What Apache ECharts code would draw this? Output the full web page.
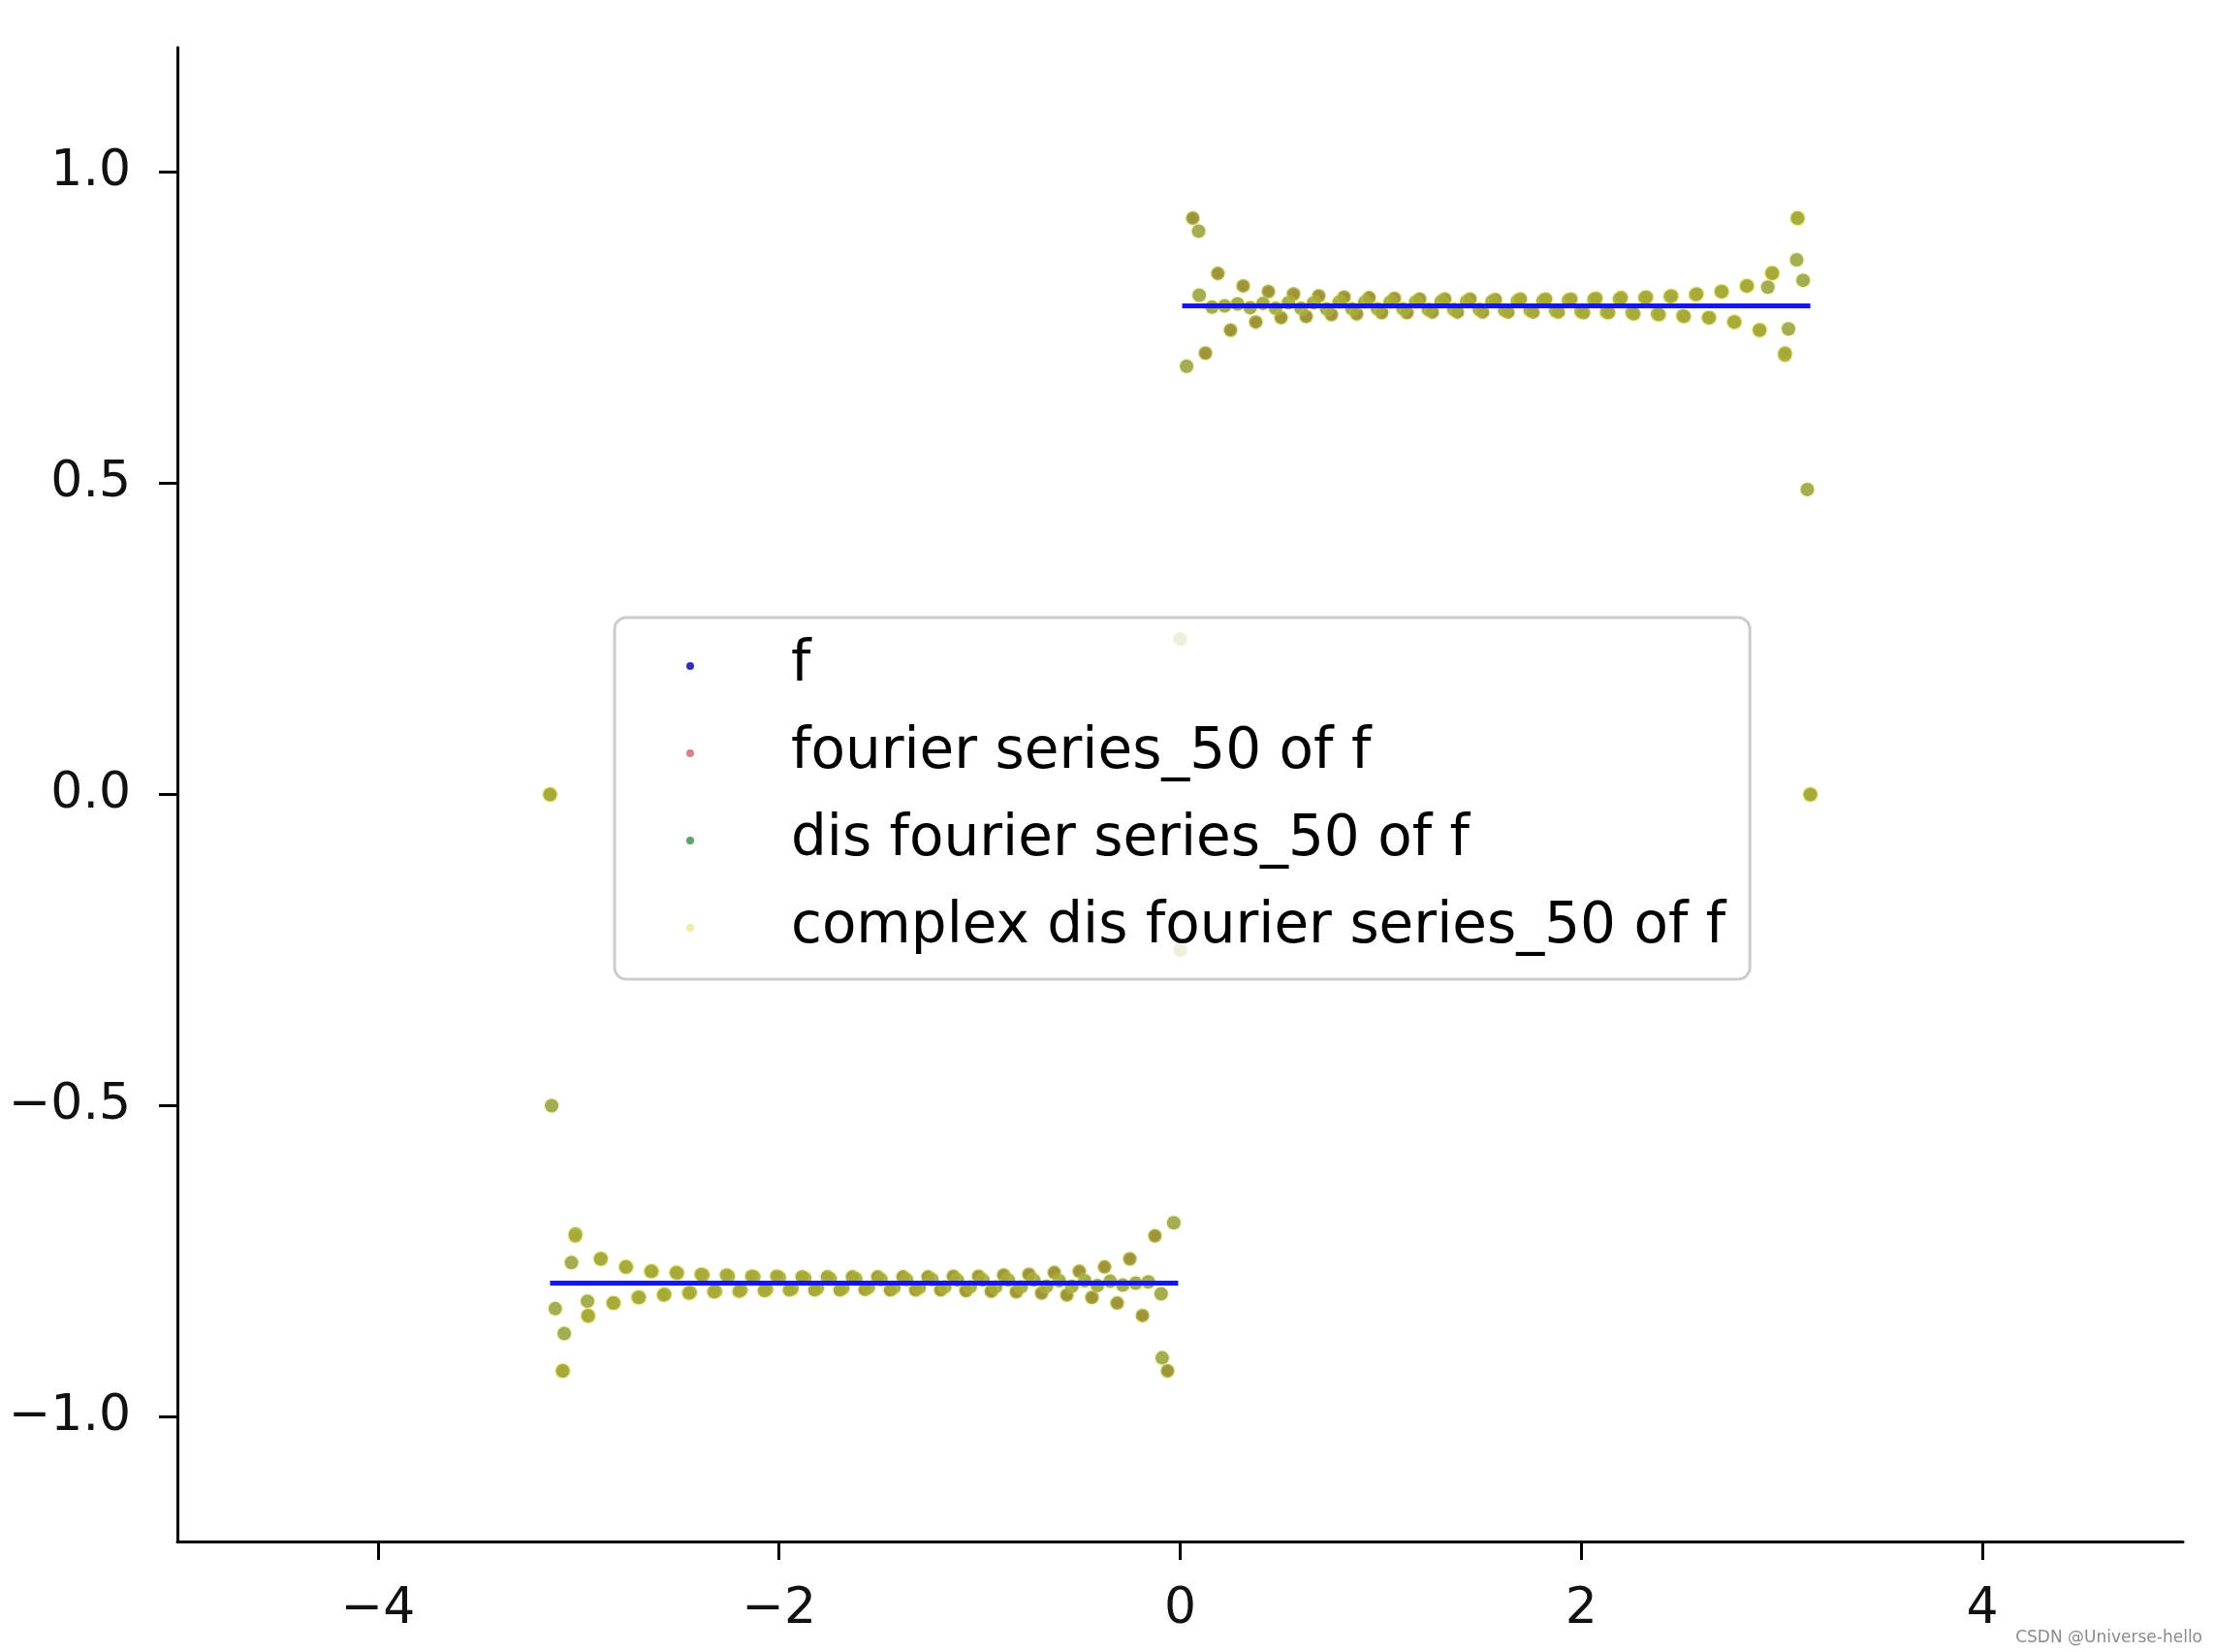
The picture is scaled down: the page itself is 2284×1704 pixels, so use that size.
<!DOCTYPE html>
<html><head><meta charset="utf-8">
<script src="https://cdn.jsdelivr.net/npm/echarts@6/dist/echarts.min.js"></script>
<style>html,body{margin:0;padding:0;background:#fff}#c{width:2284px;height:1704px}</style>
</head><body><div id="c"></div>
<script>
// ---- data ----
const seriesNames = ['f', 'fourier series_50 of f', 'dis fourier series_50 of f', 'complex dis fourier series_50 of f'];
const xTicks = [-4, -2, 0, 2, 4];
const yTicks = [-1.0, -0.5, 0.0, 0.5, 1.0];

// f: the step function (drawn as a dense blue trace)
const fX = [-3.142, -0.01, null, 0.01, 3.142];
const fY = [-0.785, -0.785, null, 0.785, 0.785];

// sample grid A
const xA = [-3.142,-3.079,-3.016,-2.953,-2.890,-2.827,-2.765,-2.702,-2.639,-2.576,-2.513,-2.450,-2.388,-2.325,-2.262,-2.199,-2.136,-2.073,-2.011,-1.948,-1.885,-1.822,-1.759,-1.696,-1.634,-1.571,-1.508,-1.445,-1.382,-1.319,-1.257,-1.194,-1.131,-1.068,-1.005,-0.942,-0.880,-0.817,-0.754,-0.691,-0.628,-0.565,-0.503,-0.440,-0.377,-0.314,-0.251,-0.188,-0.126,-0.063,
  0.063,0.126,0.188,0.251,0.314,0.377,0.440,0.503,0.565,0.628,0.691,0.754,0.817,0.880,0.942,1.005,1.068,1.131,1.194,1.257,1.319,1.382,1.445,1.508,1.571,1.634,1.696,1.759,1.822,1.885,1.948,2.011,2.073,2.136,2.199,2.262,2.325,2.388,2.450,2.513,2.576,2.639,2.702,2.765,2.827,2.890,2.953,3.016,3.079,3.142];
const yA = [0,-0.926,-0.709,-0.837,-0.746,-0.817,-0.759,-0.808,-0.766,-0.804,-0.768,-0.801,-0.771,-0.799,-0.772,-0.798,-0.774,-0.797,-0.774,-0.796,-0.775,-0.796,-0.775,-0.796,-0.775,-0.795,-0.775,-0.796,-0.775,-0.796,-0.775,-0.796,-0.774,-0.797,-0.774,-0.798,-0.772,-0.799,-0.771,-0.801,-0.768,-0.804,-0.766,-0.808,-0.759,-0.817,-0.746,-0.837,-0.709,-0.926,
  0.926,0.709,0.837,0.746,0.817,0.759,0.808,0.766,0.804,0.768,0.801,0.771,0.799,0.772,0.798,0.774,0.797,0.774,0.796,0.775,0.796,0.775,0.796,0.775,0.795,0.775,0.796,0.775,0.796,0.775,0.796,0.774,0.797,0.774,0.798,0.772,0.799,0.771,0.801,0.768,0.804,0.766,0.808,0.759,0.817,0.746,0.837,0.709,0.926,0];

// sample grid B
const xB = [-3.142,-3.078,-3.015,-2.951,-2.888,-2.824,-2.761,-2.697,-2.634,-2.570,-2.507,-2.443,-2.380,-2.317,-2.253,-2.190,-2.126,-2.063,-1.999,-1.936,-1.872,-1.809,-1.745,-1.682,-1.618,-1.555,-1.492,-1.428,-1.365,-1.301,-1.238,-1.174,-1.111,-1.047,-0.984,-0.920,-0.857,-0.793,-0.730,-0.666,-0.603,-0.540,-0.476,-0.413,-0.349,-0.286,-0.222,-0.159,-0.095,-0.032,
  0.032,0.095,0.159,0.222,0.286,0.349,0.413,0.476,0.540,0.603,0.666,0.730,0.793,0.857,0.920,0.984,1.047,1.111,1.174,1.238,1.301,1.365,1.428,1.492,1.555,1.618,1.682,1.745,1.809,1.872,1.936,1.999,2.063,2.126,2.190,2.253,2.317,2.380,2.443,2.507,2.570,2.634,2.697,2.761,2.824,2.888,2.951,3.015,3.078,3.142];
const yB = [0,-0.926,-0.706,-0.838,-0.746,-0.817,-0.759,-0.808,-0.766,-0.803,-0.769,-0.800,-0.772,-0.798,-0.774,-0.796,-0.775,-0.795,-0.776,-0.794,-0.777,-0.793,-0.778,-0.793,-0.778,-0.792,-0.779,-0.792,-0.779,-0.792,-0.779,-0.791,-0.780,-0.791,-0.780,-0.791,-0.780,-0.791,-0.780,-0.790,-0.781,-0.790,-0.781,-0.789,-0.782,-0.788,-0.785,-0.783,-0.802,-0.688,
  0.688,0.802,0.783,0.785,0.788,0.782,0.789,0.781,0.790,0.781,0.790,0.780,0.791,0.780,0.791,0.780,0.791,0.780,0.791,0.779,0.792,0.779,0.792,0.779,0.792,0.778,0.793,0.778,0.793,0.777,0.794,0.776,0.795,0.775,0.796,0.774,0.798,0.772,0.800,0.769,0.803,0.766,0.808,0.759,0.817,0.746,0.838,0.706,0.926,0];

// extra points read near the jumps
const xE = [0, 0, -3.134, 3.127, -3.116, -3.071, -3.035, -2.955, 3.106, 3.074, 3.033, 2.930, 0.092, -0.090];
const yE = [0.25, -0.25, -0.50, 0.49, -0.826, -0.866, -0.752, -0.814, 0.826, 0.859, 0.748, 0.815, 0.905, -0.905];

// ---- build ----
const pts = (xs, ys) => xs.map((x, i) => [x, ys[i]]);
const fData = pts(fX, fY);
const gridAPts = pts(xA, yA);
const allPts = pts(xA, yA).concat(pts(xB, yB), pts(xE, yE));
const fmtX = v => (v < 0 ? '\u2212' + Math.abs(v) : String(v));
const fmtY = v => (v < 0 ? '\u2212' + Math.abs(v).toFixed(1) : v.toFixed(1));
const FONT = 'DejaVu Sans';

const chart = echarts.init(document.getElementById('c'), null, {renderer: 'canvas'});
chart.setOption({
  animation: false,
  backgroundColor: '#ffffff',
  grid: {left: 183, right: 32, top: 49, bottom: 114, containLabel: false},
  xAxis: {
    type: 'value', min: -5, max: 5,
    splitLine: {show: false},
    axisLine: {show: true, onZero: false, lineStyle: {color: '#000', width: 3}},
    axisTick: {show: true, customValues: xTicks, length: 19, lineStyle: {color: '#000', width: 3}},
    axisLabel: {show: true, customValues: xTicks, formatter: fmtX, fontSize: 52, margin: 44, color: '#111', fontFamily: FONT}
  },
  yAxis: {
    type: 'value', min: -1.2, max: 1.2,
    splitLine: {show: false},
    axisLine: {show: true, onZero: false, lineStyle: {color: '#000', width: 3}},
    axisTick: {show: true, customValues: yTicks, length: 19, lineStyle: {color: '#000', width: 3}},
    axisLabel: {show: true, customValues: yTicks, formatter: fmtY, fontSize: 52, margin: 48, color: '#111', fontFamily: FONT}
  },
  legend: {
    orient: 'vertical', left: 634, top: 637,
    icon: 'circle', itemWidth: 8, itemHeight: 8, itemGap: 32,
    padding: [21, 25, 24, 74],
    backgroundColor: 'rgba(255,255,255,0.8)', borderColor: '#cccccc', borderWidth: 3, borderRadius: 12,
    selectedMode: false,
    textStyle: {fontFamily: FONT, fontSize: 58, lineHeight: 57, color: '#000', padding: [0, 0, 0, 95]},
    data: [
      {name: seriesNames[0], itemStyle: {color: '#3030c0'}},
      {name: seriesNames[1], itemStyle: {color: '#d06070'}},
      {name: seriesNames[2], itemStyle: {color: '#3a8a4a'}},
      {name: seriesNames[3], itemStyle: {color: '#e8e888'}}
    ]
  },
  graphic: [{
    type: 'text', right: 12, bottom: 6, silent: true,
    style: {text: 'CSDN @Universe-hello', font: '17px "DejaVu Sans"', fill: '#8a8a8a'}
  }],
  series: [
    {name: seriesNames[0], type: 'line', data: fData, symbol: 'none', showSymbol: false, connectNulls: false,
     lineStyle: {color: '#1414ff', width: 5}, itemStyle: {color: '#1414ff'}, silent: true},
    {name: seriesNames[1], type: 'scatter', data: gridAPts, symbolSize: 11, itemStyle: {color: '#d62728'}, silent: true},
    {name: seriesNames[2], type: 'scatter', data: allPts, symbolSize: 14, itemStyle: {color: '#77842c'}, silent: true},
    {name: seriesNames[3], type: 'scatter', data: allPts, symbolSize: 17, itemStyle: {color: 'rgba(226,226,70,0.3)'}, silent: true}
  ]
});
</script>
</body></html>
